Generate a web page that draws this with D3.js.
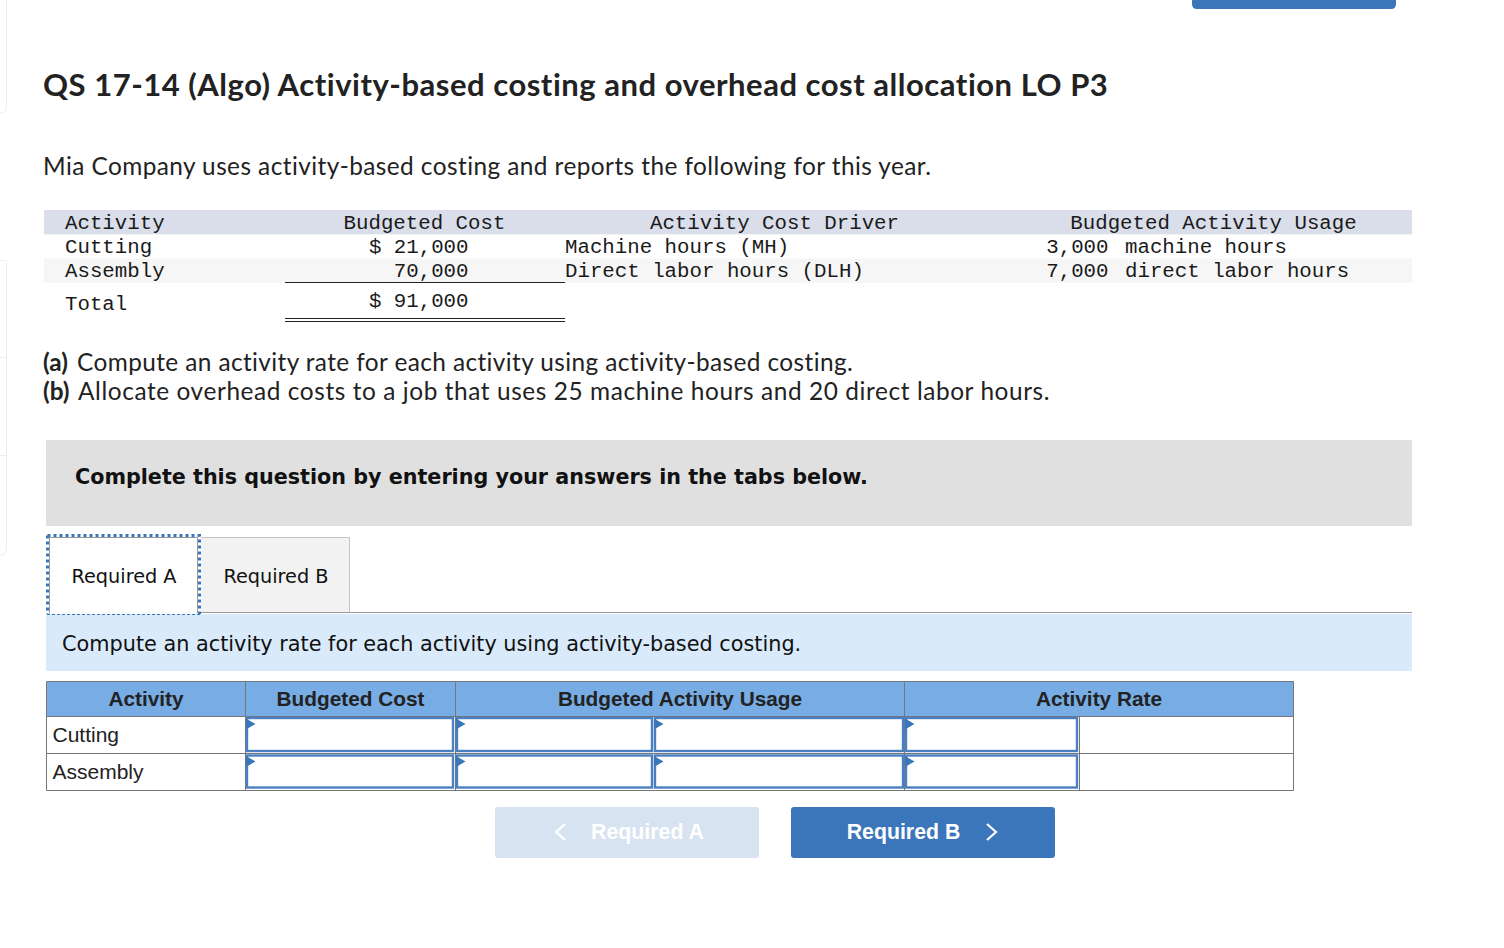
<!DOCTYPE html>
<html lang="en">
<head>
  <meta charset="UTF-8">
  <title>QS 17-14 (Algo) Activity-based costing</title>
  <script src="https://d3js.org/d3.v7.min.js"></script>
  <style>
    * { margin: 0; padding: 0; }
    body { background: #fff; overflow: hidden; }
    svg { display: block; }
    .head { font-family: Lato, sans-serif; fill: #222; }
    .mono { font-family: "Liberation Mono", monospace; font-size: 20.75px; fill: #1a1a1a; }
    .verdana { font-family: "DejaVu Sans", sans-serif; fill: #111; }
    .arial { font-family: "Liberation Sans", sans-serif; fill: #222; }
  </style>
</head>
<body>
  <svg id="page" width="1504" height="948"></svg>

  <script>
    // Text and values
    const title = "QS 17-14 (Algo) Activity-based costing and overhead cost allocation LO P3";
    const intro = "Mia Company uses activity-based costing and reports the following for this year.";
    const parts = [
      ["(a)", "Compute an activity rate for each activity using activity-based costing."],
      ["(b)", "Allocate overhead costs to a job that uses 25 machine hours and 20 direct labor hours."]
    ];
    const instruction = "Complete this question by entering your answers in the tabs below.";
    const tabs = ["Required A", "Required B"];
    const tabPrompt = "Compute an activity rate for each activity using activity-based costing.";

    const activities = ["Cutting", "Assembly"];
    const costs = [21000, 70000];
    const totalCost = 91000;
    const drivers = ["Machine hours (MH)", "Direct labor hours (DLH)"];
    const usage = [3000, 7000];
    const usageUnits = ["machine hours", "direct labor hours"];
    const infoHeaders = ["Activity", "Budgeted Cost", "Activity Cost Driver", "Budgeted Activity Usage"];
    const answerHeaders = ["Activity", "Budgeted Cost", "Budgeted Activity Usage", "Activity Rate"];

    const svg = d3.select("#page");
    const fmt = d3.format(",");

    const rect = (x, y, w, h, fill, rx) => svg.append("rect")
      .attr("x", x).attr("y", y).attr("width", w).attr("height", h)
      .attr("fill", fill).attr("rx", rx || 0);

    const hline = (x1, x2, y, color) => svg.append("line")
      .attr("x1", x1).attr("x2", x2).attr("y1", y).attr("y2", y).attr("stroke", color);

    const vline = (x, y1, y2, color) => svg.append("line")
      .attr("x1", x).attr("x2", x).attr("y1", y1).attr("y2", y2).attr("stroke", color);

    const label = (x, y, str, cls, size, weight, anchor) => svg.append("text")
      .attr("x", x).attr("y", y).attr("class", cls)
      .attr("font-size", size).attr("font-weight", weight || 400)
      .attr("text-anchor", anchor || "start").text(str);

    // page furniture: the top button and faint side panels
    svg.append("path").attr("fill", "#3b76bb")
      .attr("d", "M1192,0H1396V4Q1396,9 1391,9H1197Q1192,9 1192,4Z");
    svg.append("path").attr("fill", "none").attr("stroke", "#eeeeee")
      .attr("d", "M6.5,0V106Q6.5,113 0,113M0,260.5H6.5V548Q6.5,555 0,555M0,357.5H6.5M0,455.5H6.5");

    // heading block, spaced out a little because Lato runs narrower than the original face
    label(43, 96, title, "head", 31, 700).attr("letter-spacing", 0.52);
    label(43, 175, intro, "head", 24.4, 400).attr("letter-spacing", 0.43);
    parts.forEach((p, i) => {
      const y = 371 + i * 29;
      label(43, y, p[0], "head", 24.4, 700);
      label(i ? 78 : 77, y, p[1], "head", 24.4, 400).attr("letter-spacing", i ? 0.59 : 0.40);
    });

    // information table
    const infoRowY = d3.scaleBand().domain(["head", ...activities]).range([210, 283]);
    rect(44, infoRowY("head"), 1368, infoRowY.bandwidth(), "#d9deea");
    rect(44, infoRowY("Assembly"), 1368, infoRowY.bandwidth(), "#f6f6f6");

    const costRight = 468.5;
    const infoHeadX = d3.scaleOrdinal().domain(infoHeaders).range([65, 424.5, 774.5, 1213.5]);
    const infoHeadAnchor = d3.scaleOrdinal().domain(infoHeaders).range(["start", "middle", "middle", "middle"]);
    infoHeaders.forEach(h => {
      svg.append("text").attr("class", "mono").attr("x", infoHeadX(h)).attr("y", 229)
        .attr("text-anchor", infoHeadAnchor(h)).text(h);
    });

    activities.forEach((a, i) => {
      const y = Math.floor(infoRowY(a) + 19);
      svg.append("text").attr("class", "mono").attr("x", 65).attr("y", y).text(a);
      svg.append("text").attr("class", "mono").attr("x", costRight).attr("y", y)
        .attr("text-anchor", "end")
        .text((i === 0 ? "$ " : "") + fmt(costs[i]));
      svg.append("text").attr("class", "mono").attr("x", 565).attr("y", y).text(drivers[i]);
      svg.append("text").attr("class", "mono").attr("x", 1108.5).attr("y", y)
        .attr("text-anchor", "end").text(fmt(usage[i]));
      svg.append("text").attr("class", "mono").attr("x", 1125).attr("y", y).text(usageUnits[i]);
    });

    hline(285, 565, 282.5, "#222");
    svg.append("text").attr("class", "mono").attr("x", 65).attr("y", 310).text("Total");
    svg.append("text").attr("class", "mono").attr("x", costRight).attr("y", 307)
      .attr("text-anchor", "end").text("$ " + fmt(totalCost));
    hline(285, 565, 318.5, "#222");
    hline(285, 565, 321.5, "#222");

    // instruction panel
    rect(46, 440, 1366, 86, "#e0e0e0");
    label(75, 484, instruction, "verdana", 20.7, 700);

    // tabs
    rect(201, 537, 149, 75, "#f2f2f2");
    svg.append("path").attr("fill", "none").attr("stroke", "#c4c4c4")
      .attr("d", "M201,537.5H349.5V612");
    hline(201, 1412, 612.5, "#999999");
    rect(46, 614, 1366, 57, "#d9ebfa");
    rect(49, 537, 149, 76, "#ffffff");
    svg.append("path").attr("fill", "none").attr("stroke", "#999999")
      .attr("d", "M49.5,613V537.5H197.5V613");
    svg.append("path").attr("fill", "none").attr("stroke", "#3b76bb").attr("stroke-width", 3)
      .attr("stroke-dasharray", "3 3")
      .attr("d", "M47.5,535.5H199.5V614M47.5,535.5V614");
    hline(47, 200, 614.5, "#3b76bb").attr("stroke-dasharray", "3 2");
    label(124, 583, tabs[0], "verdana", 19.3, 400, "middle");
    label(276, 583, tabs[1], "verdana", 19.3, 400, "middle");

    label(62, 651, tabPrompt, "verdana", 20.8, 400);

    // answer table
    const tableLeft = 46.5, tableRight = 1293.5, tableTop = 681.5, headBottom = 716.5, tableBottom = 790.5;
    const colX = d3.scaleOrdinal().domain(answerHeaders).range([tableLeft, 245.5, 455.5, 904.5]);
    const colEnd = d3.scaleOrdinal().domain(answerHeaders).range([245.5, 455.5, 904.5, tableRight]);
    const rowY = d3.scaleBand().domain(activities).range([headBottom, tableBottom]);

    rect(tableLeft, tableTop, tableRight - tableLeft, headBottom - tableTop, "#78ace4");
    answerHeaders.forEach(h => {
      label((colX(h) + colEnd(h)) / 2, 706, h, "arial", 20.8, 700, "middle");
    });

    const gridColor = "#777777";
    hline(tableLeft, tableRight, tableTop, gridColor);
    hline(tableLeft, tableRight, headBottom, gridColor);
    activities.forEach(a => {
      hline(tableLeft, tableRight, rowY(a) + rowY.bandwidth(), gridColor);
      label(52.5, rowY(a) + 25.5, a, "arial", 21, 400);
    });
    answerHeaders.forEach(h => vline(colX(h), tableTop, tableBottom, gridColor));
    vline(tableRight, tableTop, tableBottom, gridColor);
    vline(1079.5, headBottom, tableBottom, gridColor);

    // empty answer boxes, each with its small corner marker
    const inputSlots = [[246, 454], [456, 653], [654, 904], [905, 1078]];
    activities.forEach((a, i) => {
      const y = rowY(a) + 0.5 + (i ? 0.5 : 0);
      const h = 35 - (i ? 1 : 0);
      inputSlots.forEach(s => {
        svg.append("rect").attr("x", s[0] + 1).attr("y", y + 1)
          .attr("width", s[1] - s[0] - 2).attr("height", h - 2)
          .attr("fill", "#fff").attr("stroke", "#4a80c2").attr("stroke-width", 2.4);
        svg.append("path").attr("fill", "#3b76bb")
          .attr("d", `M${s[0]},${y + 1.5}L${s[0] + 9.5},${y + 7}L${s[0]},${y + 12.5}Z`);
      });
    });

    // navigation buttons
    rect(495, 807, 264, 51, "#d7e3f1", 3);
    rect(791, 807, 264, 51, "#3b76bb", 3);
    label(647.5, 839, tabs[0], "arial", 21.3, 700, "middle").style("fill", "#fff");
    label(903.5, 839, tabs[1], "arial", 21.3, 700, "middle").style("fill", "#fff");
    svg.append("path").attr("fill", "none").attr("stroke", "#fff").attr("stroke-width", 2.2)
      .attr("d", "M565,824L556,832L565,840");
    svg.append("path").attr("fill", "none").attr("stroke", "#fff").attr("stroke-width", 2.2)
      .attr("d", "M987,824L996,832L987,840");
  </script>
</body>
</html>
